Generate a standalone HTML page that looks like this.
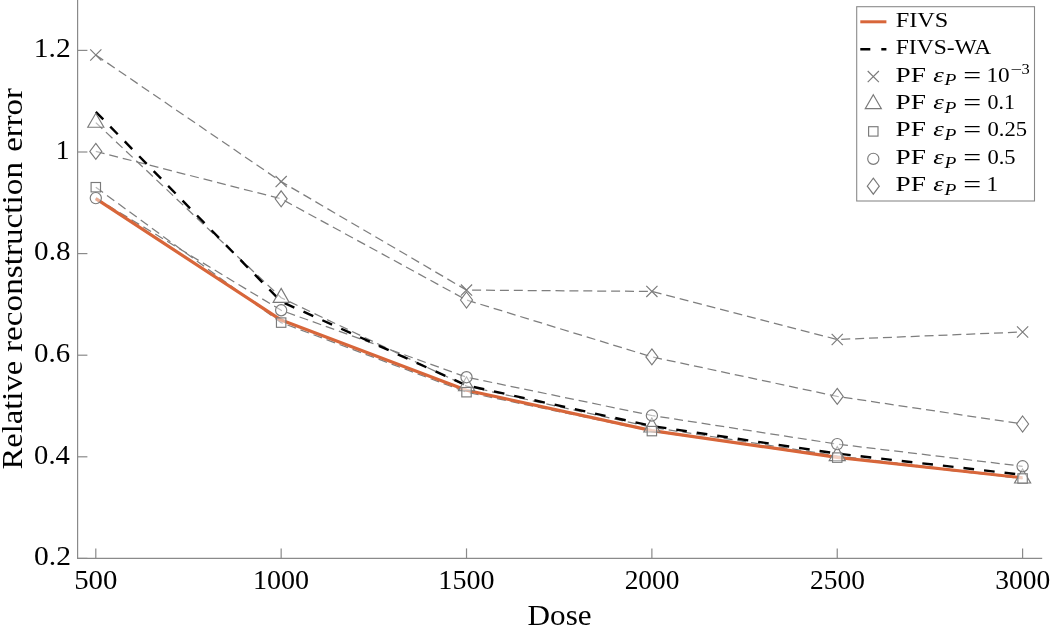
<!DOCTYPE html>
<html><head><meta charset="utf-8"><style>
html,body{margin:0;padding:0;background:#fff;}
body{width:1050px;height:626px;overflow:hidden;}
svg{display:block;filter:blur(0.35px);}
</style></head><body>
<svg width="1050" height="626" viewBox="0 0 1050 626">
<g stroke="#8a8a8a" stroke-width="1.2" fill="none">
<path d="M77.6 -1V558.4H1042.2"/>
<path d="M95.80 558.4V548.4"/>
<path d="M281.16 558.4V548.4"/>
<path d="M466.52 558.4V548.4"/>
<path d="M651.88 558.4V548.4"/>
<path d="M837.24 558.4V548.4"/>
<path d="M1022.60 558.4V548.4"/>
<path d="M77.6 558.40H87.4"/>
<path d="M77.6 456.80H87.4"/>
<path d="M77.6 355.20H87.4"/>
<path d="M77.6 253.60H87.4"/>
<path d="M77.6 152.00H87.4"/>
<path d="M77.6 50.40H87.4"/>
</g>
<g stroke="#7e7e7e" stroke-width="1.25" fill="none" stroke-dasharray="9 4.9">
<polyline points="95.80,55.05 281.16,181.60 466.52,290.10 651.88,291.40 837.24,339.50 1022.60,332.00"/>
<polyline points="95.80,122.60 281.16,297.70 466.52,386.10 651.88,427.30 837.24,455.90 1022.60,478.30"/>
<polyline points="95.80,187.20 281.16,322.60 466.52,392.20 651.88,431.10 837.24,457.60 1022.60,478.50"/>
<polyline points="95.80,198.10 281.16,310.30 466.52,377.20 651.88,415.50 837.24,444.10 1022.60,466.30"/>
<polyline points="95.80,151.40 281.16,198.80 466.52,300.00 651.88,356.90 837.24,396.40 1022.60,424.00"/>
</g>
<polyline points="95.80,111.80 281.16,301.60 466.52,385.40 651.88,426.00 837.24,453.60 1022.60,474.80" fill="none" stroke="#000" stroke-width="2.4" stroke-dasharray="10.7 10"/>
<polyline points="95.80,198.70 281.16,320.10 466.52,390.20 651.88,430.60 837.24,457.40 1022.60,477.80" fill="none" stroke="#d8663a" stroke-width="3.2" stroke-linejoin="round"/>
<g stroke="#7a7a7a" stroke-width="1.15" fill="#fff" fill-opacity="0.45">
<path d="M90.20 49.45L101.40 60.65M90.20 60.65L101.40 49.45"/>
<path d="M275.56 176.00L286.76 187.20M275.56 187.20L286.76 176.00"/>
<path d="M460.92 284.50L472.12 295.70M460.92 295.70L472.12 284.50"/>
<path d="M646.28 285.80L657.48 297.00M646.28 297.00L657.48 285.80"/>
<path d="M831.64 333.90L842.84 345.10M831.64 345.10L842.84 333.90"/>
<path d="M1017.00 326.40L1028.20 337.60M1017.00 337.60L1028.20 326.40"/>
<path d="M95.80 113.30L103.85 127.25L87.75 127.25Z"/>
<path d="M281.16 288.40L289.21 302.35L273.11 302.35Z"/>
<path d="M466.52 376.80L474.57 390.75L458.47 390.75Z"/>
<path d="M651.88 418.00L659.93 431.95L643.83 431.95Z"/>
<path d="M837.24 446.60L845.29 460.55L829.19 460.55Z"/>
<path d="M1022.60 469.00L1030.65 482.95L1014.55 482.95Z"/>
<rect x="91.10" y="182.50" width="9.40" height="9.40"/>
<rect x="276.46" y="317.90" width="9.40" height="9.40"/>
<rect x="461.82" y="387.50" width="9.40" height="9.40"/>
<rect x="647.18" y="426.40" width="9.40" height="9.40"/>
<rect x="832.54" y="452.90" width="9.40" height="9.40"/>
<rect x="1017.90" y="473.80" width="9.40" height="9.40"/>
<circle cx="95.80" cy="198.10" r="5.6"/>
<circle cx="281.16" cy="310.30" r="5.6"/>
<circle cx="466.52" cy="377.20" r="5.6"/>
<circle cx="651.88" cy="415.50" r="5.6"/>
<circle cx="837.24" cy="444.10" r="5.6"/>
<circle cx="1022.60" cy="466.30" r="5.6"/>
<path d="M95.80 143.40L101.80 151.40L95.80 159.40L89.80 151.40Z"/>
<path d="M281.16 190.80L287.16 198.80L281.16 206.80L275.16 198.80Z"/>
<path d="M466.52 292.00L472.52 300.00L466.52 308.00L460.52 300.00Z"/>
<path d="M651.88 348.90L657.88 356.90L651.88 364.90L645.88 356.90Z"/>
<path d="M837.24 388.40L843.24 396.40L837.24 404.40L831.24 396.40Z"/>
<path d="M1022.60 416.00L1028.60 424.00L1022.60 432.00L1016.60 424.00Z"/>
</g>
<g font-family="Liberation Serif, serif" fill="#000">
<text x="34.07" y="565.10" font-size="28.2" textLength="36.96" lengthAdjust="spacingAndGlyphs">0.2</text>
<text x="34.11" y="463.50" font-size="28.2" textLength="35.74" lengthAdjust="spacingAndGlyphs">0.4</text>
<text x="34.10" y="361.90" font-size="28.2" textLength="36.16" lengthAdjust="spacingAndGlyphs">0.6</text>
<text x="34.09" y="260.30" font-size="28.2" textLength="36.42" lengthAdjust="spacingAndGlyphs">0.8</text>
<text x="55.78" y="158.70" font-size="28.2" textLength="13.78" lengthAdjust="spacingAndGlyphs">1</text>
<text x="33.80" y="57.10" font-size="28.2" textLength="36.93" lengthAdjust="spacingAndGlyphs">1.2</text>
<text x="74.23" y="589.10" font-size="28.2" textLength="43.17" lengthAdjust="spacingAndGlyphs">500</text>
<text x="252.99" y="589.10" font-size="28.2" textLength="56.14" lengthAdjust="spacingAndGlyphs">1000</text>
<text x="438.35" y="589.10" font-size="28.2" textLength="56.14" lengthAdjust="spacingAndGlyphs">1500</text>
<text x="624.67" y="589.10" font-size="28.2" textLength="54.85" lengthAdjust="spacingAndGlyphs">2000</text>
<text x="810.03" y="589.10" font-size="28.2" textLength="54.85" lengthAdjust="spacingAndGlyphs">2500</text>
<text x="995.28" y="589.10" font-size="28.2" textLength="54.96" lengthAdjust="spacingAndGlyphs">3000</text>
<text x="527.60" y="624.80" font-size="29.9" textLength="63.98" lengthAdjust="spacingAndGlyphs">Dose</text>
<g transform="rotate(-90)">
<text x="-469.64" y="21.60" font-size="29.6" textLength="108.87" lengthAdjust="spacingAndGlyphs">Relative</text>
<text x="-351.96" y="21.60" font-size="29.6" textLength="189.97" lengthAdjust="spacingAndGlyphs">reconstruction</text>
<text x="-151.78" y="21.60" font-size="29.6" textLength="63.67" lengthAdjust="spacingAndGlyphs">error</text>
</g>
</g>
<rect x="856.7" y="6.7" width="177.8" height="194.3" fill="#fff" stroke="#8a8a8a" stroke-width="1.1"/>
<path d="M860.3 21.80H886.4" stroke="#d8663a" stroke-width="3"/>
<path d="M860.3 49.20H886.4" stroke="#000" stroke-width="2.4" stroke-dasharray="10 11"/>
<g stroke="#7a7a7a" stroke-width="1.15" fill="none">
<path d="M867.70 71.00L878.90 82.20M867.70 82.20L878.90 71.00"/>
<path d="M873.30 94.70L881.35 108.65L865.25 108.65Z"/>
<rect x="868.60" y="126.70" width="9.40" height="9.40"/>
<circle cx="873.30" cy="158.80" r="5.6"/>
<path d="M873.30 178.20L879.30 186.20L873.30 194.20L867.30 186.20Z"/>
</g>
<g font-family="Liberation Serif, serif" fill="#000">
<text x="895.70" y="26.80" font-size="21.9" textLength="52.71" lengthAdjust="spacingAndGlyphs">FIVS</text>
<text x="895.74" y="54.20" font-size="21.9" textLength="95.43" lengthAdjust="spacingAndGlyphs">FIVS-WA</text>
<text x="895.61" y="81.60" font-size="21.9" textLength="30.37" lengthAdjust="spacingAndGlyphs">PF</text>
<text x="933.32" y="81.60" font-size="21.9" font-style="italic" textLength="10.60" lengthAdjust="spacingAndGlyphs">ε</text>
<text x="944.50" y="85.30" font-size="15.9" font-style="italic" textLength="11.89" lengthAdjust="spacingAndGlyphs">P</text>
<text x="963.32" y="82.50" font-size="23" textLength="17.94" lengthAdjust="spacingAndGlyphs">=</text>
<text x="986.46" y="81.60" font-size="21.9" textLength="23.23" lengthAdjust="spacingAndGlyphs">10</text>
<text x="1010.38" y="74.20" font-size="14.2" textLength="11.51" lengthAdjust="spacingAndGlyphs">−</text>
<text x="1021.61" y="74.00" font-size="14.2" textLength="8.23" lengthAdjust="spacingAndGlyphs">3</text>
<text x="895.61" y="109.00" font-size="21.9" textLength="30.37" lengthAdjust="spacingAndGlyphs">PF</text>
<text x="933.32" y="109.00" font-size="21.9" font-style="italic" textLength="10.60" lengthAdjust="spacingAndGlyphs">ε</text>
<text x="944.50" y="112.70" font-size="15.9" font-style="italic" textLength="11.89" lengthAdjust="spacingAndGlyphs">P</text>
<text x="963.32" y="109.90" font-size="23" textLength="17.94" lengthAdjust="spacingAndGlyphs">=</text>
<text x="987.46" y="109.00" font-size="21.9" textLength="27.46" lengthAdjust="spacingAndGlyphs">0.1</text>
<text x="895.61" y="136.40" font-size="21.9" textLength="30.37" lengthAdjust="spacingAndGlyphs">PF</text>
<text x="933.32" y="136.40" font-size="21.9" font-style="italic" textLength="10.60" lengthAdjust="spacingAndGlyphs">ε</text>
<text x="944.50" y="140.10" font-size="15.9" font-style="italic" textLength="11.89" lengthAdjust="spacingAndGlyphs">P</text>
<text x="963.32" y="137.30" font-size="23" textLength="17.94" lengthAdjust="spacingAndGlyphs">=</text>
<text x="987.44" y="136.40" font-size="21.9" textLength="39.65" lengthAdjust="spacingAndGlyphs">0.25</text>
<text x="895.61" y="163.80" font-size="21.9" textLength="30.37" lengthAdjust="spacingAndGlyphs">PF</text>
<text x="933.32" y="163.80" font-size="21.9" font-style="italic" textLength="10.60" lengthAdjust="spacingAndGlyphs">ε</text>
<text x="944.50" y="167.50" font-size="15.9" font-style="italic" textLength="11.89" lengthAdjust="spacingAndGlyphs">P</text>
<text x="963.32" y="164.70" font-size="23" textLength="17.94" lengthAdjust="spacingAndGlyphs">=</text>
<text x="987.44" y="163.80" font-size="21.9" textLength="28.24" lengthAdjust="spacingAndGlyphs">0.5</text>
<text x="895.61" y="191.20" font-size="21.9" textLength="30.37" lengthAdjust="spacingAndGlyphs">PF</text>
<text x="933.32" y="191.20" font-size="21.9" font-style="italic" textLength="10.60" lengthAdjust="spacingAndGlyphs">ε</text>
<text x="944.50" y="194.90" font-size="15.9" font-style="italic" textLength="11.89" lengthAdjust="spacingAndGlyphs">P</text>
<text x="963.32" y="192.10" font-size="23" textLength="17.94" lengthAdjust="spacingAndGlyphs">=</text>
<text x="986.45" y="191.20" font-size="21.9" textLength="11.65" lengthAdjust="spacingAndGlyphs">1</text>
</g>
</svg>
</body></html>
